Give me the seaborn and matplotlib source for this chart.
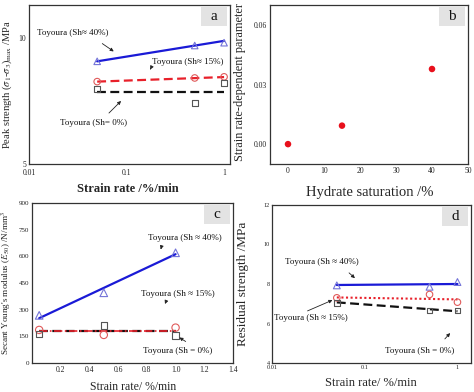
import numpy as np
import pandas as pd
import matplotlib
matplotlib.use("Agg")
import matplotlib.pyplot as plt
import seaborn as sns
from matplotlib.patches import Rectangle
from matplotlib.ticker import FixedLocator, NullFormatter, LogLocator, FixedFormatter

sns.set_theme(style="white")
plt.rcParams['font.family'] = ['Liberation Serif', 'DejaVu Serif']
plt.rcParams['mathtext.fontset'] = 'stix'

# ---------------- data ----------------
rate = [0.05, 0.5, 1.0]
fit_rate = [0.05, 1.0]

# panel a: peak strength (MPa)
a_sh40 = [8.8, 9.6, 9.75]
a_sh15 = [7.87, 8.03, 8.08]
a_sh0 = [7.55, 7.0, 7.8]
a_fit40 = [8.8, 9.85]
a_fit15 = [7.87, 8.07]
a_fit0 = [7.43, 7.43]

# panel b: strain-rate-dependent parameter
b_sat = [0, 15, 40]
b_param = [0.0, 0.0093, 0.0378]

# panel c: secant Young's modulus
c_sh40 = [268, 395, 620]
c_sh15 = [186, 158, 199]
c_sh0 = [162, 212, 156]
c_fit40 = [252, 612]
c_fit15 = [181, 181]
c_fit0 = [178, 178]

# panel d: residual strength
d_sh40 = [7.93, 7.86, 8.1]
d_sh15 = [7.3, 7.47, 7.08]
d_sh0 = [7.05, 6.66, 6.66]
d_fit40 = [7.95, 8.0]
d_fit15 = [7.32, 7.22]
d_fit0 = [7.07, 6.62]

W, H = 474, 392
fig = plt.figure(figsize=(W / 100, H / 100), dpi=100)


def box(l, t, r, b):
    return [l / W, 1 - b / H, (r - l) / W, (b - t) / H]


axa = fig.add_axes(box(29, 5, 230, 164))
axb = fig.add_axes(box(270, 5, 468, 164))
axc = fig.add_axes(box(32, 203, 233, 363))
axd = fig.add_axes(box(272, 205, 471, 363))

BLUE = '#1a1ad6'
BLUE_M = '#7474d8'
RED = '#e8202a'
RED_M = '#e05a5a'
BLACK = '#111111'
GREY_M = '#555555'


def style(ax):
    for s in ax.spines.values():
        s.set_color('#333333')
        s.set_linewidth(0.9)
    ax.tick_params(direction='in', which='both', labelsize=5.5, length=2.5,
                   colors='#222222', top=False, right=False, pad=2)
    ax.tick_params(which='minor', length=1.5)


def label_box(ax, letter):
    ax.add_patch(Rectangle((0.855, 0.87), 0.13, 0.115, transform=ax.transAxes,
                           facecolor='#e3e3e3', edgecolor='none', zorder=1))
    ax.text(0.92, 0.925, letter, transform=ax.transAxes, ha='center',
            va='center', fontsize=11, color='#111111', zorder=2)


def scatter(ax, x, y, marker, color, size=18):
    df = pd.DataFrame({'x': x, 'y': y})
    sns.scatterplot(data=df, x='x', y='y', ax=ax, marker=marker,
                    facecolor='none', edgecolor=color, linewidth=0.8,
                    s=size, zorder=4, legend=False)


def line(ax, x, y, color, ls, lw=1.6):
    df = pd.DataFrame({'x': x, 'y': y})
    sns.lineplot(data=df, x='x', y='y', ax=ax, color=color, linestyle=ls,
                 linewidth=lw, zorder=3, legend=False)


def note(ax, text, txy, axy=None, hxy=None, fs=6.5):
    # coordinates in reference-image pixels (top-left origin)
    tx, ty = txy[0] / W, 1 - txy[1] / H
    ax.text(tx, ty, text, transform=fig.transFigure, fontsize=fs,
            ha='center', va='center', color='#111111', zorder=6)
    if axy is not None:
        ax.annotate('', xy=(hxy[0] / W, 1 - hxy[1] / H),
                    xytext=(axy[0] / W, 1 - axy[1] / H),
                    xycoords='figure fraction', textcoords='figure fraction',
                    arrowprops=dict(arrowstyle='-|>', color='#222222', lw=0.6,
                                    mutation_scale=5), zorder=6)


def ylabel_at(ax, px_x, fig_px_y):
    # place y-label centre at figure pixel position
    inv = ax.transAxes.inverted()
    xa, ya = inv.transform(fig.transFigure.transform((px_x / W, 1 - fig_px_y / H)))
    ax.yaxis.set_label_coords(xa, ya)


def xlabel_at(ax, px_x, fig_px_y):
    inv = ax.transAxes.inverted()
    xa, ya = inv.transform(fig.transFigure.transform((px_x / W, 1 - fig_px_y / H)))
    ax.xaxis.set_label_coords(xa, ya)


# ---------------- panel a ----------------
line(axa, fit_rate, a_fit40, BLUE, '-')
line(axa, fit_rate, a_fit15, RED, (0, (4, 2)))
line(axa, fit_rate, a_fit0, BLACK, (0, (4, 2)))
scatter(axa, rate, a_sh40, '^', BLUE_M, 22)
scatter(axa, rate, a_sh15, 'o', RED_M, 22)
scatter(axa, rate, a_sh0, 's', GREY_M, 18)
axa.set_xscale('log')
axa.set_yscale('log')
axa.set_xlim(0.01, 1.15)
axa.set_ylim(5, 12)
axa.yaxis.set_major_locator(FixedLocator([5, 10]))
axa.yaxis.set_major_formatter(FixedFormatter(['5', '10']))
axa.yaxis.set_minor_locator(FixedLocator([6, 7, 8, 9, 11, 12]))
axa.yaxis.set_minor_formatter(NullFormatter())
axa.xaxis.set_major_locator(FixedLocator([0.01, 0.1, 1]))
axa.xaxis.set_major_formatter(FixedFormatter(['0.01', '0.1', '1']))
axa.xaxis.set_minor_locator(LogLocator(subs=np.arange(2, 10)))
axa.xaxis.set_minor_formatter(NullFormatter())
axa.set_xlabel('Strain rate /%/min', fontsize=9, fontweight='bold')
axa.set_ylabel(r'Peak strength ($\sigma_1$-$\sigma_3$)$_{\rm max}$ /MPa',
               fontsize=7.6)
style(axa)
axa.tick_params(axis='x', which='major', pad=3.5)
ylabel_at(axa, 14, 84)
xlabel_at(axa, 128, 183)
label_box(axa, 'a')
note(axa, 'Toyoura (Sh≈ 40%)', (73, 33), (100, 42), (116, 53))
note(axa, 'Toyoura (Sh≈ 15%)', (188, 62), (152, 66), (149, 72))
note(axa, 'Toyoura (Sh= 0%)', (94, 123), (107, 115), (123, 99))

# ---------------- panel b ----------------
dfb = pd.DataFrame({'sat': b_sat, 'param': b_param})
sns.scatterplot(data=dfb, x='sat', y='param', ax=axb, color='#e8101c',
                s=22, edgecolor='none', zorder=4, legend=False)
axb.set_xlim(-5, 50)
axb.set_ylim(-0.01, 0.07)
axb.set_xticks([0, 10, 20, 30, 40, 50])
axb.set_xticks([5, 15, 25, 35, 45], minor=True)
axb.set_yticks([0.0, 0.03, 0.06])
axb.set_yticklabels(['0.00', '0.03', '0.06'])
axb.set_yticks([-0.005, 0.015, 0.045], minor=True)
axb.set_xlabel('Hydrate saturation /%', fontsize=10.5)
axb.set_ylabel('Strain rate-dependent parameter', fontsize=8.8)
style(axb)
ylabel_at(axb, 246, 82)
xlabel_at(axb, 370, 186)
label_box(axb, 'b')

# ---------------- panel c ----------------
line(axc, fit_rate, c_fit40, BLUE, '-')
line(axc, fit_rate, c_fit0, BLACK, (0, (4, 2)))
line(axc, fit_rate, c_fit15, RED, (0, (5, 1.5, 1, 1.5)), 1.2)
scatter(axc, rate, c_sh40, '^', BLUE_M, 30)
scatter(axc, rate, c_sh15, 'o', RED_M, 28)
scatter(axc, rate, c_sh0, 's', GREY_M, 22)
axc.set_xlim(0, 1.4)
axc.set_ylim(0, 900)
axc.set_xticks([0.2, 0.4, 0.6, 0.8, 1.0, 1.2, 1.4])
axc.set_xticks([0.1, 0.3, 0.5, 0.7, 0.9, 1.1, 1.3], minor=True)
axc.set_yticks([0, 150, 300, 450, 600, 750, 900])
axc.set_yticks([75, 225, 375, 525, 675, 825], minor=True)
axc.set_xlabel('Strain rate/ %/min', fontsize=8.5)
axc.set_ylabel(r"Secant Young's modulus ($E_{50}$) /N/mm$^3$", fontsize=6.6)
style(axc)
axc.tick_params(axis='y', labelsize=5)
ylabel_at(axc, 13, 283)
xlabel_at(axc, 133, 381)
label_box(axc, 'c')
note(axc, 'Toyoura (Sh ≈ 40%)', (185, 238), (162, 245), (160, 252))
note(axc, 'Toyoura (Sh ≈ 15%)', (178, 294), (167, 299), (165, 304))
note(axc, 'Toyoura (Sh = 0%)', (178, 351), (188, 343), (177, 336))

# ---------------- panel d ----------------
line(axd, fit_rate, d_fit40, BLUE, '-')
line(axd, fit_rate, d_fit15, RED, (0, (1, 1.2)), 1.5)
line(axd, fit_rate, d_fit0, BLACK, (0, (4, 2)))
scatter(axd, rate, d_sh40, '^', BLUE_M, 24)
scatter(axd, rate, d_sh15, 'o', RED_M, 22)
scatter(axd, rate, d_sh0, 's', GREY_M, 16)
axd.set_xscale('log')
axd.set_xlim(0.01, 1.4)
axd.set_ylim(4, 12)
axd.set_yticks([4, 6, 8, 10, 12])
axd.set_yticks([5, 7, 9, 11], minor=True)
axd.xaxis.set_major_locator(FixedLocator([0.01, 0.1, 1]))
axd.xaxis.set_major_formatter(FixedFormatter(['0.01', '0.1', '1']))
axd.xaxis.set_minor_locator(LogLocator(subs=np.arange(2, 10)))
axd.xaxis.set_minor_formatter(NullFormatter())
axd.set_xlabel('Strain rate/ %/min', fontsize=9)
axd.set_ylabel('Residual strength /MPa', fontsize=9.5)
style(axd)
axd.tick_params(labelsize=4.5, pad=1.5)
ylabel_at(axd, 249, 284)
xlabel_at(axd, 371, 377)
label_box(axd, 'd')
note(axd, 'Toyoura (Sh ≈ 40%)', (322, 262), (347, 271), (357, 280))
note(axd, 'Toyoura (Sh ≈ 15%)', (311, 318), (305, 312), (335, 299))
note(axd, 'Toyoura (Sh = 0%)', (420, 351), (443, 341), (452, 331))

fig.savefig('out.png', dpi=100)
